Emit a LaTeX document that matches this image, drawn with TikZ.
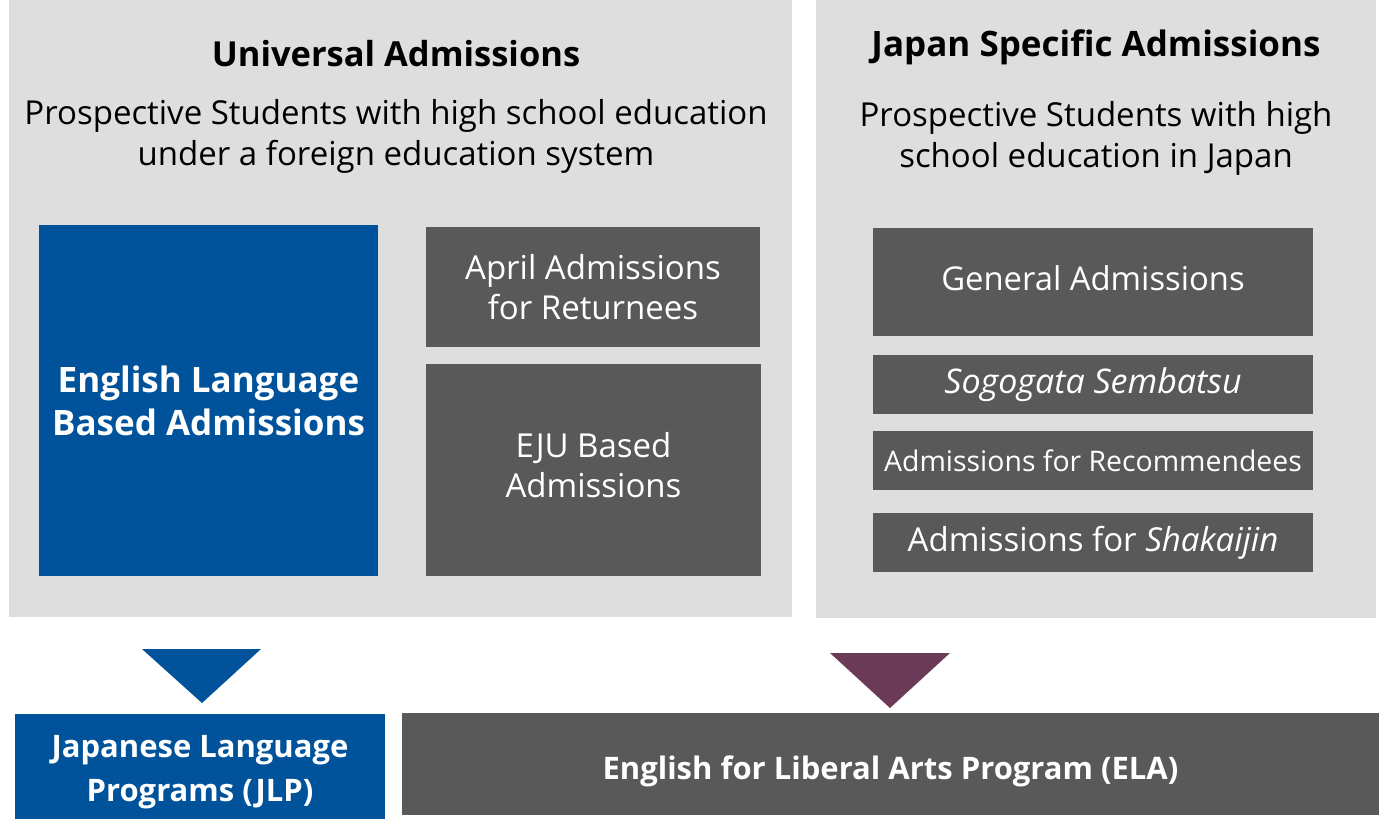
\documentclass[tikz,border=0pt]{standalone}
\usepackage{fontspec}
\setmainfont{Open Sans}
\usetikzlibrary{positioning}

\definecolor{panelgray}{HTML}{DEDEDE}
\definecolor{boxgray}{HTML}{595959}
\definecolor{icublue}{HTML}{00539B}
\definecolor{elapurple}{HTML}{6A3A57}

\newcommand{\fsz}[2]{\fontsize{#1}{#2}\selectfont}

\begin{document}
\begin{tikzpicture}[x=1pt, y=-1pt,
    panel/.style ={rectangle, fill=panelgray, inner sep=0pt},
    admbox/.style ={rectangle, fill=boxgray, text=white, inner sep=0pt, align=center},
    bluebox/.style ={rectangle, fill=icublue, text=white, inner sep=0pt, align=center},
    boxtext/.style ={text=white, inner sep=0pt, align=center}]
   \useasboundingbox (0,0) rectangle (1379,837);
   \node[panel, minimum width=783pt, minimum height=617pt] (UA) at (400.5,308.5) {};
   \node[panel, minimum width=560pt, minimum height=618pt] (JSA) at (1096,309) {};

   \node[align=center, font=\bfseries\fsz{34.5}{41}] (UAt) at (396,54) {Universal Admissions};
   \node[align=center, font=\fsz{33}{41}] (UAs) at (396,136.5) {Prospective Students with high school education\\under a foreign education system};
   \node[align=center, font=\bfseries\fsz{35}{41}] (JSAt) at (1096,47) {Japan Specific Admissions};
   \node[align=center, font=\fsz{33}{41}] (JSAs) at (1096,138.5) {Prospective Students with high\\school education in Japan};

   \node[bluebox, minimum width=339pt, minimum height=351pt, font=\bfseries\fsz{35}{43}] (ELBA) at (208.5,400.5) {English Language\\Based Admissions};
   \node[admbox, minimum width=334pt, minimum height=120pt, font=\fsz{33}{40}] (APR) at (593,287) {April Admissions\\for Returnees};
   \node[admbox, minimum width=335pt, minimum height=212pt] (EJU) at (593.5,470) {};
   \node[boxtext, font=\fsz{33}{40}] (EJUt) at ([yshift=5pt]EJU.center) {EJU Based\\Admissions};

   \node[admbox, minimum width=440pt, minimum height=108pt] (GEN) at (1093,282) {};
   \node[boxtext, font=\fsz{32.8}{40}] (GENt) at ([yshift=4pt]GEN.center) {General Admissions};
   \node[admbox, minimum width=440pt, minimum height=59pt, font=\fsz{34}{40}] (SOG) at (1093,384.5) {\itshape Sogogata Sembatsu};
   \node[admbox, minimum width=440pt, minimum height=59pt, font=\fsz{28.4}{34}] (REC) at (1093,460.5) {Admissions for Recommendees};
   \node[admbox, minimum width=440pt, minimum height=59pt, font=\fsz{33}{40}] (SHA) at (1093,542.5) {Admissions for \textit{Shakaijin}};

   \node[bluebox, minimum width=370pt, minimum height=105pt] (JLP) at (200,766.5) {};
   \node[boxtext, font=\bfseries\fsz{31}{44}] (JLPt) at ([yshift=-6pt]JLP.center) {Japanese Language\\Programs (JLP)};
   \node[admbox, minimum width=977pt, minimum height=102pt] (ELA) at (890.5,764) {};
   \node[boxtext, font=\bfseries\fsz{31}{40}] (ELAt) at ([yshift=-7pt]ELA.center) {English for Liberal Arts Program (ELA)};

   \fill[icublue] (142,649) -- (261,649) -- (202,703) -- cycle;
   \fill[elapurple] (830,653) -- (950,653) -- (890,708) -- cycle;
 \end{tikzpicture}
\end{document}
